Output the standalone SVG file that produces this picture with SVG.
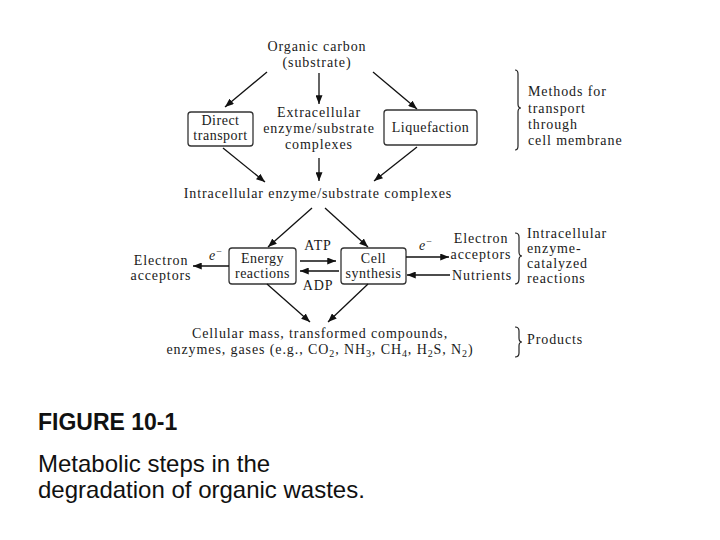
<svg xmlns="http://www.w3.org/2000/svg" width="720" height="540" viewBox="0 0 720 540">
<defs>
<marker id="ah" viewBox="0 0 10 8" refX="10" refY="4" markerWidth="9" markerHeight="7" markerUnits="userSpaceOnUse" orient="auto">
<path d="M0,0 L10,4 L0,8 z" fill="#111"/>
</marker>
</defs>
<style>
.t{font-family:"Liberation Serif","Times New Roman",serif;font-size:14px;fill:#1a1a1a;letter-spacing:0.9px}
.m{text-anchor:middle}
.b{letter-spacing:0.5px}
.box{fill:#fff;stroke:#333;stroke-width:1.3}
.c line{stroke:#111;stroke-width:1.3;marker-end:url(#ah)}
.br{fill:none;stroke:#222;stroke-width:1.2}
.cap{font-family:"Liberation Sans",Arial,sans-serif;fill:#111}
</style>
<rect width="720" height="540" fill="#fff"/>

<g id="organic-carbon">
<text class="t m" x="317" y="51">Organic carbon</text>
<text class="t m" x="317" y="67">(substrate)</text>
</g>
<g id="direct-transport">
<rect class="box" x="188" y="112" width="65" height="34" rx="3"/>
<text class="t m b" x="220.5" y="125">Direct</text>
<text class="t m b" x="220.5" y="140">transport</text>
</g>
<g id="extracellular">
<text class="t m" x="319" y="117">Extracellular</text>
<text class="t m" x="319" y="133">enzyme/substrate</text>
<text class="t m" x="319" y="149">complexes</text>
</g>
<g id="liquefaction">
<rect class="box" x="384" y="110" width="93" height="35" rx="3"/>
<text class="t m b" x="430.5" y="132">Liquefaction</text>
</g>
<g id="intracellular">
<text class="t m" x="318" y="198">Intracellular enzyme/substrate complexes</text>
</g>
<g id="energy-reactions">
<rect class="box" x="229" y="248" width="67" height="36" rx="3"/>
<text class="t m b" x="262.5" y="263">Energy</text>
<text class="t m b" x="262.5" y="278">reactions</text>
</g>
<g id="cell-synthesis">
<rect class="box" x="341" y="248" width="65" height="36" rx="3"/>
<text class="t m b" x="373.5" y="263">Cell</text>
<text class="t m b" x="373.5" y="278">synthesis</text>
</g>
<g id="atp-adp">
<text class="t m" x="318" y="250">ATP</text>
<text class="t m" x="318" y="290">ADP</text>
</g>
<g id="electron-acceptors-left">
<text class="t m" x="161" y="265">Electron</text>
<text class="t m" x="161" y="280">acceptors</text>
<text class="t" x="209" y="260"><tspan font-style="italic">e</tspan><tspan font-size="10" dy="-5">−</tspan></text>
</g>
<g id="electron-acceptors-right">
<text class="t" x="419" y="250"><tspan font-style="italic">e</tspan><tspan font-size="10" dy="-5">−</tspan></text>
<text class="t m" x="481" y="243">Electron</text>
<text class="t m" x="481" y="259">acceptors</text>
</g>
<g id="nutrients">
<text class="t" x="452" y="280">Nutrients</text>
</g>
<g id="products-text">
<text class="t m" x="320" y="338">Cellular mass, transformed compounds,</text>
<text class="t m" x="320" y="354">enzymes, gases (e.g., CO<tspan font-size="10" dy="3">2</tspan><tspan dy="-3">, NH</tspan><tspan font-size="10" dy="3">3</tspan><tspan dy="-3">, CH</tspan><tspan font-size="10" dy="3">4</tspan><tspan dy="-3">, H</tspan><tspan font-size="10" dy="3">2</tspan><tspan dy="-3">S, N</tspan><tspan font-size="10" dy="3">2</tspan><tspan dy="-3">)</tspan></text>
</g>

<g id="annotations">
<path class="br" d="M515,70 Q518,70 518,74 L518,104 Q518,108 521,108 Q518,108 518,112 L518,146 Q518,150 515,150"/>
<text class="t" x="528" y="96">Methods for</text>
<text class="t" x="528" y="113">transport</text>
<text class="t" x="528" y="129">through</text>
<text class="t" x="528" y="145">cell membrane</text>
<path class="br" d="M515,233 Q519,233 519,237 L519,252 Q519,256 522,256 Q519,256 519,260 L519,279 Q519,284 515,284"/>
<text class="t" x="527" y="238">Intracellular</text>
<text class="t" x="527" y="253">enzyme-</text>
<text class="t" x="527" y="268">catalyzed</text>
<text class="t" x="527" y="283">reactions</text>
<path class="br" d="M515,327 Q519,327 519,331 L519,338 Q519,342 522,342 Q519,342 519,346 L519,353 Q519,357 515,357"/>
<text class="t" x="527" y="344">Products</text>
</g>

<g id="connectors" class="c">
<line x1="267" y1="72" x2="225" y2="107"/>
<line x1="319" y1="73" x2="319" y2="104"/>
<line x1="373" y1="72" x2="417" y2="109"/>
<line x1="223" y1="148" x2="265" y2="182"/>
<line x1="319" y1="158" x2="319" y2="181"/>
<line x1="417" y1="147" x2="374" y2="181"/>
<line x1="312" y1="208" x2="268" y2="247"/>
<line x1="325" y1="208" x2="368" y2="247"/>
<line x1="300" y1="261" x2="336" y2="261"/>
<line x1="339" y1="271" x2="300" y2="271"/>
<line x1="229" y1="266" x2="193" y2="266"/>
<line x1="406" y1="257" x2="449" y2="257"/>
<line x1="450" y1="275" x2="407" y2="275"/>
<line x1="267" y1="284" x2="310" y2="322"/>
<line x1="368" y1="284" x2="328" y2="322"/>
</g>

<g id="caption">
<text class="cap" x="38" y="430" font-size="23" font-weight="bold">FIGURE 10-1</text>
<text class="cap" x="38" y="472" font-size="24">Metabolic steps in the</text>
<text class="cap" x="38" y="498" font-size="24">degradation of organic wastes.</text>
</g>
</svg>
